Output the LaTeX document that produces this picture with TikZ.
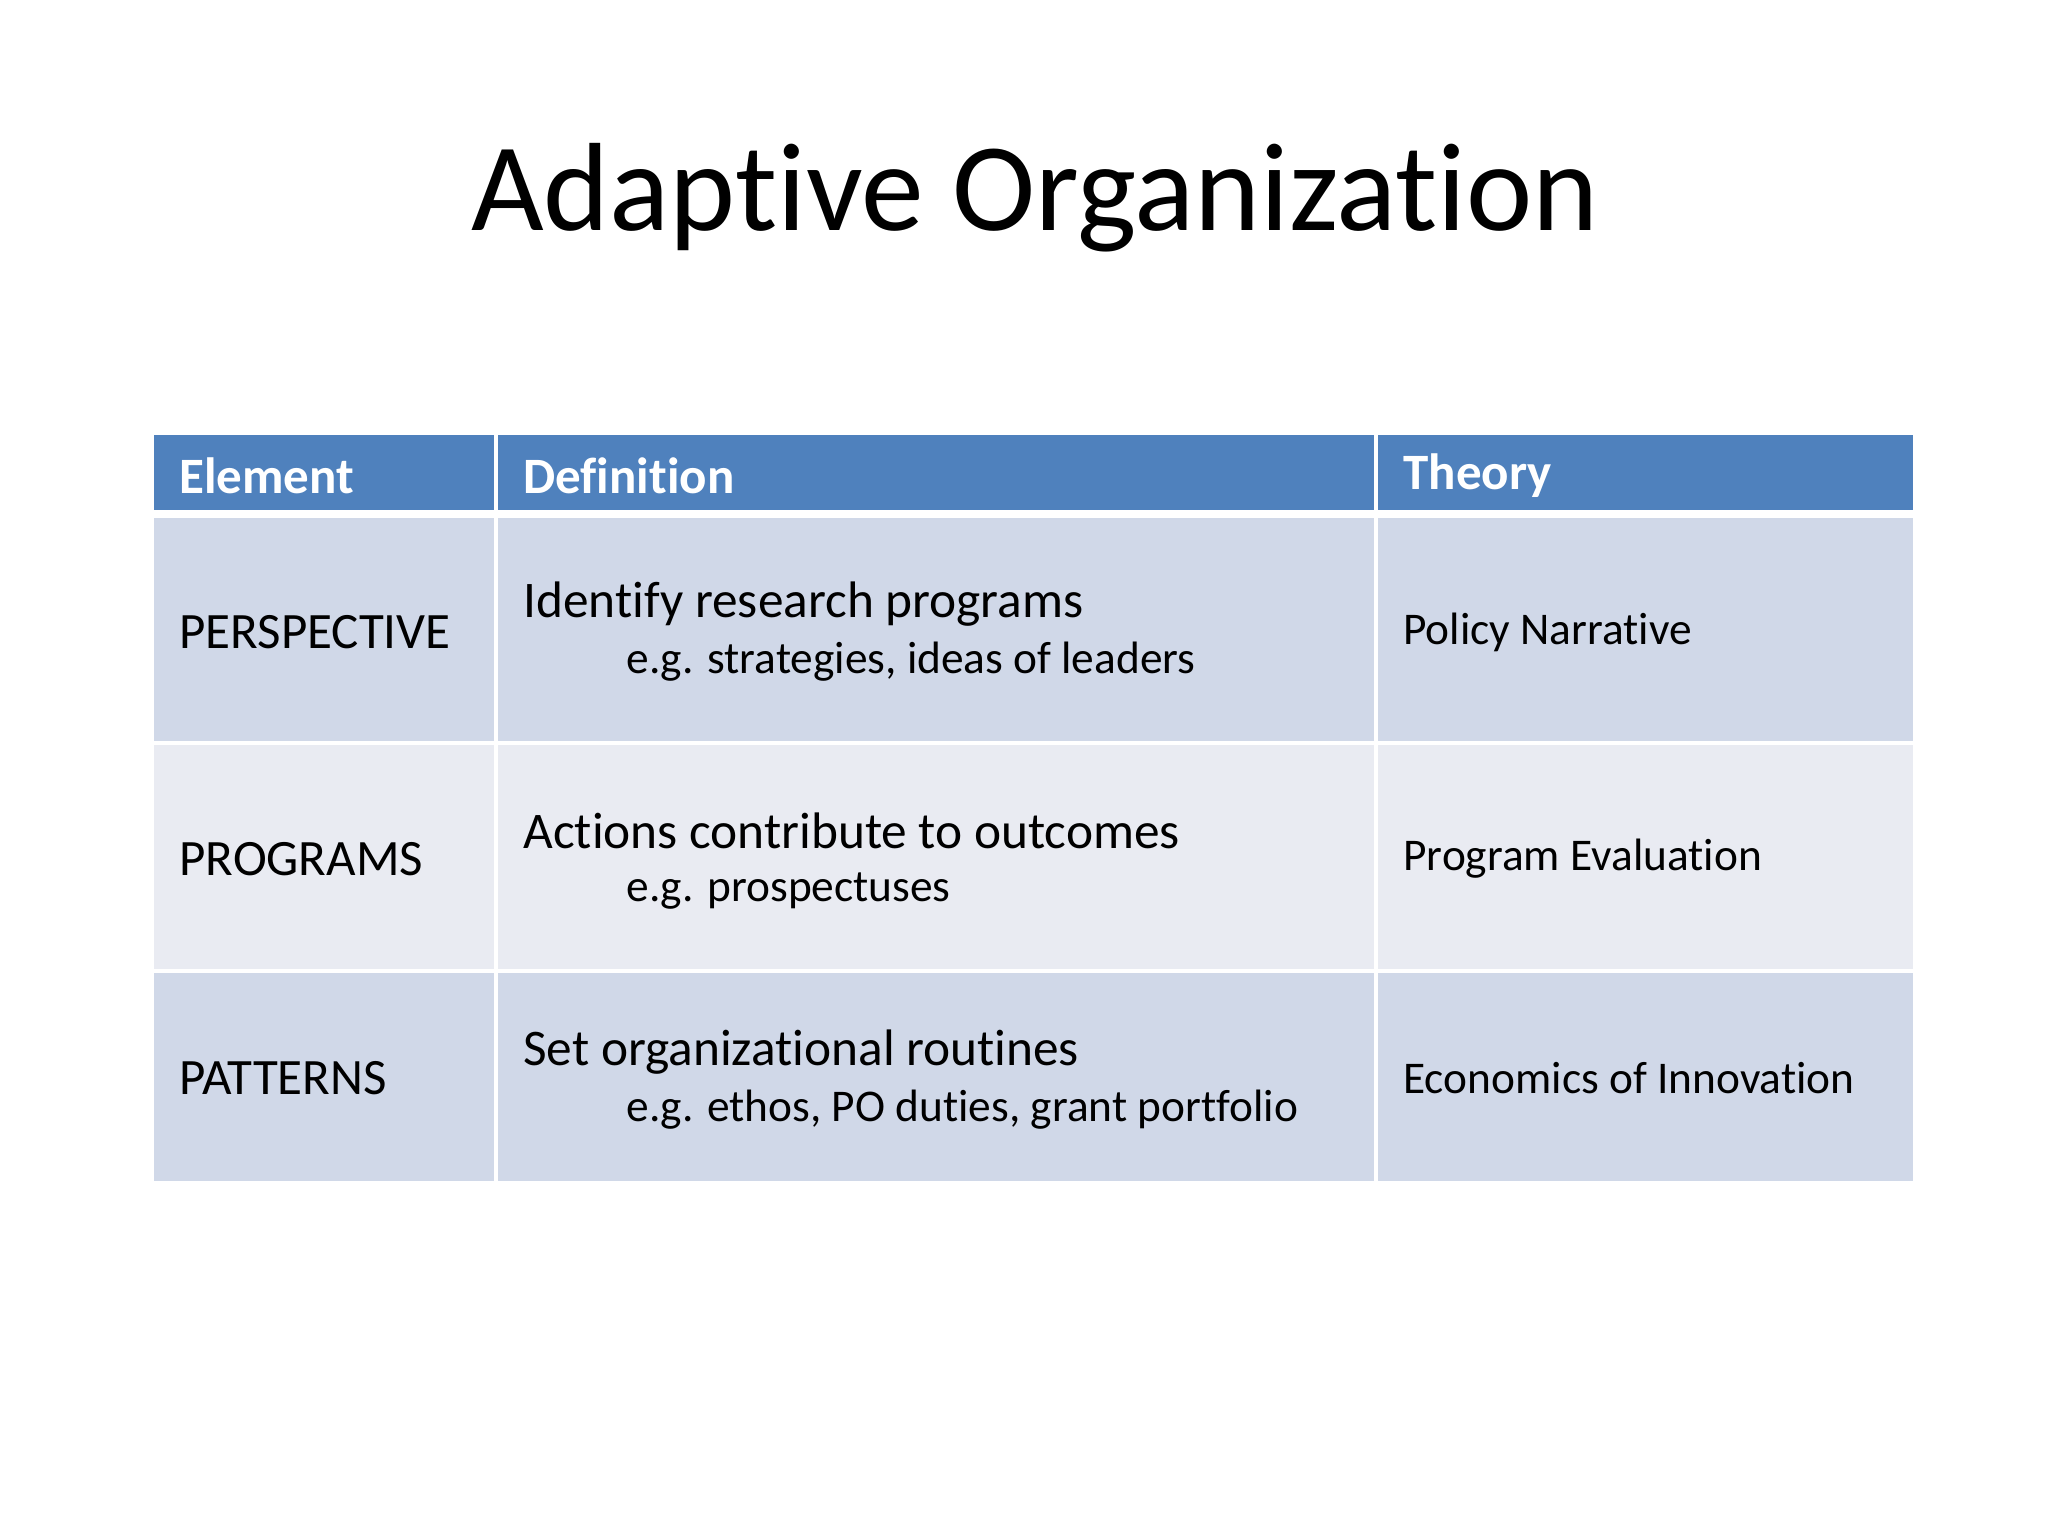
\documentclass[tikz,border=0pt]{standalone}
\usepackage{fontspec}
\setmainfont{Carlito}[Ligatures={NoCommon}]
\definecolor{hdr}{HTML}{4F81BD}
\definecolor{rowa}{HTML}{D0D8E8}
\definecolor{rowb}{HTML}{E9EBF2}
\begin{document}
\begin{tikzpicture}[x=0.01cm,y=-0.01cm,
  hd/.style={anchor=west,text=white,font=\fontsize{14.5}{17}\selectfont\bfseries},
  el/.style={anchor=west,font=\fontsize{14.5}{17}\selectfont},
  df/.style={anchor=west,font=\fontsize{14.6}{17}\selectfont},
  eg/.style={anchor=west,font=\fontsize{12.9}{15}\selectfont},
  th/.style={anchor=west,font=\fontsize{12.9}{15}\selectfont}]
\useasboundingbox (0,0) rectangle (2048,1536);
\node[font=\fontsize{35.7}{42}\selectfont] (title) at (1035,198) {Adaptive Organization};
\fill[hdr] (154,435) rectangle (1913,512);
\fill[rowa] (154,516) rectangle (1913,743);
\fill[rowb] (154,743) rectangle (1913,971);
\fill[rowa] (154,971) rectangle (1913,1181);
\draw[white,line width=2.5pt] (154,514) -- (1913,514);
\draw[white,line width=1.2pt] (154,743) -- (1913,743);
\draw[white,line width=1.2pt] (154,971) -- (1913,971);
\draw[white,line width=1.2pt] (496,435) -- (496,1181);
\draw[white,line width=1.2pt] (1376,435) -- (1376,1181);
\node[hd] (h1) at (167,476) {Element};
\node[hd] (h2) at (511,476) {Definition};
\node[hd] (h3) at (1391,476) {Theory};
\node[el] (e1) at (167,632) {PERSPECTIVE};
\node[df] (d1) at (511,604) {Identify research programs};
\node[eg] (g1) at (614,662) {e.g. strategies, ideas of leaders};
\node[th] (t1) at (1391,632) {Policy Narrative};
\node[el] (e2) at (167,859) {PROGRAMS};
\node[df] (d2) at (511,831) {Actions contribute to outcomes};
\node[eg] (g2) at (614,891) {e.g. prospectuses};
\node[th] (t2) at (1391,859) {Program Evaluation};
\node[el] (e3) at (167,1078) {PATTERNS};
\node[df] (d3) at (511,1052) {Set organizational routines};
\node[eg] (g3) at (614,1110) {e.g. ethos, PO duties, grant portfolio};
\node[th] (t3) at (1391,1078) {Economics of Innovation};
\end{tikzpicture}
\end{document}
